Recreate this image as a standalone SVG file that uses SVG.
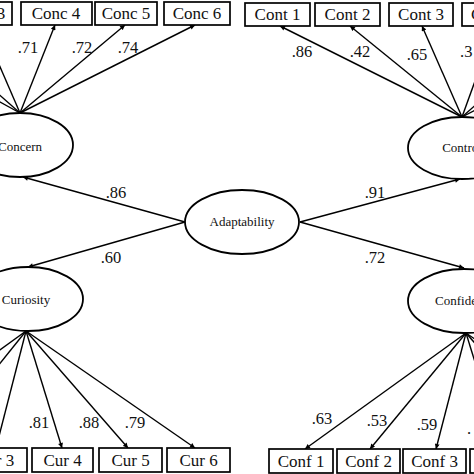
<svg xmlns="http://www.w3.org/2000/svg" width="474" height="474" viewBox="0 0 474 474">
<style>
.box{fill:#fff;stroke:#000;stroke-width:1.7}
.el{fill:#fff;stroke:#000;stroke-width:1.8}
.bt{font-family:"Liberation Serif",serif;font-size:17px;text-anchor:middle;fill:#111}
.et{font-family:"Liberation Serif",serif;font-size:13px;text-anchor:middle;fill:#111}
.lt{font-family:"Liberation Serif",serif;font-size:16.5px;text-anchor:middle;fill:#111}
.ln{stroke:#000;stroke-width:1.4;fill:none;marker-end:url(#ah)}
</style>
<defs>
<marker id="ah" viewBox="0 0 10 10" refX="10" refY="5" markerWidth="7" markerHeight="5" markerUnits="userSpaceOnUse" orient="auto">
<path d="M0,0 L10,5 L0,10 z" fill="#000"/>
</marker>
</defs>
<rect width="474" height="474" fill="#fff"/>
<g id="connectors">
<line class="ln" x1="20" y1="113" x2="-140" y2="25"/>
<line class="ln" x1="20" y1="113" x2="-80" y2="25"/>
<line class="ln" x1="20" y1="113" x2="-18" y2="25"/>
<line class="ln" x1="20" y1="113" x2="55" y2="25"/>
<line class="ln" x1="20" y1="113" x2="125" y2="25"/>
<line class="ln" x1="20" y1="113" x2="195" y2="25"/>
<line class="ln" x1="462" y1="117" x2="280" y2="26"/>
<line class="ln" x1="462" y1="117" x2="350" y2="26"/>
<line class="ln" x1="462" y1="117" x2="422" y2="26"/>
<line class="ln" x1="462" y1="117" x2="495" y2="26"/>
<line class="ln" x1="462" y1="117" x2="565" y2="26"/>
<line class="ln" x1="462" y1="117" x2="635" y2="26"/>
<line class="ln" x1="185" y1="222" x2="23" y2="177"/>
<line class="ln" x1="185" y1="222" x2="28" y2="267"/>
<line class="ln" x1="300" y1="222" x2="460" y2="179"/>
<line class="ln" x1="300" y1="222" x2="464" y2="268"/>
<line class="ln" x1="26" y1="331" x2="-135" y2="448"/>
<line class="ln" x1="26" y1="331" x2="-68" y2="448"/>
<line class="ln" x1="26" y1="331" x2="-4" y2="448"/>
<line class="ln" x1="26" y1="331" x2="62" y2="448"/>
<line class="ln" x1="26" y1="331" x2="128" y2="448"/>
<line class="ln" x1="26" y1="331" x2="195" y2="448"/>
<line class="ln" x1="466" y1="333" x2="305" y2="449"/>
<line class="ln" x1="466" y1="333" x2="370" y2="449"/>
<line class="ln" x1="466" y1="333" x2="436" y2="449"/>
<line class="ln" x1="466" y1="333" x2="502" y2="449"/>
<line class="ln" x1="466" y1="333" x2="568" y2="449"/>
<line class="ln" x1="466" y1="333" x2="634" y2="449"/>
</g>
<g id="labels">
<text class="lt" x="28" y="53">.71</text>
<text class="lt" x="82" y="53">.72</text>
<text class="lt" x="128" y="53">.74</text>
<text class="lt" x="302" y="57">.86</text>
<text class="lt" x="360" y="57">.42</text>
<text class="lt" x="417" y="60">.65</text>
<text class="lt" x="460" y="57" style="text-anchor:start">.3</text>
<text class="lt" x="116" y="198">.86</text>
<text class="lt" x="111" y="263">.60</text>
<text class="lt" x="375" y="198">.91</text>
<text class="lt" x="375" y="263">.72</text>
<text class="lt" x="39" y="428">.81</text>
<text class="lt" x="89" y="428">.88</text>
<text class="lt" x="135" y="428">.79</text>
<text class="lt" x="322" y="424">.63</text>
<text class="lt" x="377" y="426">.53</text>
<text class="lt" x="427" y="430">.59</text>
<text class="lt" x="467" y="434" style="text-anchor:start">.</text>
</g>
<g id="concern"><ellipse class="el" cx="20" cy="145" rx="53" ry="32"/><text class="et" x="20" y="151">Concern</text></g>
<g id="control"><ellipse class="el" cx="462" cy="148" rx="54" ry="31"/><text class="et" x="462" y="152">Control</text></g>
<g id="adaptability"><ellipse class="el" cx="242" cy="222" rx="57" ry="32"/><text class="et" x="242" y="226">Adaptability</text></g>
<g id="curiosity"><ellipse class="el" cx="28" cy="299" rx="55" ry="32"/><text class="et" x="26" y="304">Curiosity</text></g>
<g id="confidence"><ellipse class="el" cx="464" cy="301" rx="56" ry="32"/><text class="et" x="465" y="305">Confidence</text></g>
<g id="conc3"><rect class="box" x="-50" y="2" width="62" height="23"/><text class="bt" x="-19" y="19">Conc 3</text></g>
<g id="conc4"><rect class="box" x="21" y="2" width="71" height="23"/><text class="bt" x="56" y="19">Conc 4</text></g>
<g id="conc5"><rect class="box" x="95" y="2" width="62" height="23"/><text class="bt" x="126" y="19">Conc 5</text></g>
<g id="conc6"><rect class="box" x="164" y="2" width="66" height="23"/><text class="bt" x="197" y="19">Conc 6</text></g>
<g id="cont1"><rect class="box" x="245" y="3" width="65" height="23"/><text class="bt" x="277.5" y="20">Cont 1</text></g>
<g id="cont2"><rect class="box" x="315" y="3" width="65" height="23"/><text class="bt" x="347.5" y="20">Cont 2</text></g>
<g id="cont3"><rect class="box" x="389" y="3" width="64" height="23"/><text class="bt" x="421" y="20">Cont 3</text></g>
<g id="cont4"><rect class="box" x="462" y="3" width="64" height="23"/><text class="bt" x="494" y="20">Cont 4</text></g>
<g id="cur3"><rect class="box" x="-36" y="448" width="63" height="24"/><text class="bt" x="-5" y="466">Cur 3</text></g>
<g id="cur4"><rect class="box" x="32" y="448" width="61" height="24"/><text class="bt" x="62.5" y="466">Cur 4</text></g>
<g id="cur5"><rect class="box" x="99" y="448" width="63" height="24"/><text class="bt" x="130.5" y="466">Cur 5</text></g>
<g id="cur6"><rect class="box" x="167" y="448" width="63" height="24"/><text class="bt" x="198.5" y="466">Cur 6</text></g>
<g id="conf1"><rect class="box" x="269" y="449" width="64" height="24"/><text class="bt" x="301" y="467">Conf 1</text></g>
<g id="conf2"><rect class="box" x="337" y="449" width="63" height="24"/><text class="bt" x="368.5" y="467">Conf 2</text></g>
<g id="conf3"><rect class="box" x="403" y="449" width="63" height="24"/><text class="bt" x="434.5" y="467">Conf 3</text></g>
<g id="conf4"><rect class="box" x="470" y="449" width="63" height="24"/><text class="bt" x="501.5" y="467">Conf 4</text></g>
</svg>
